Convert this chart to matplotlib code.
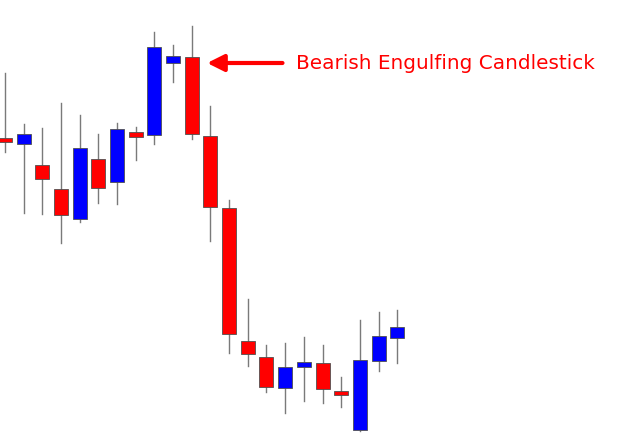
import matplotlib.pyplot as plt
from matplotlib.patches import Rectangle

# candle prices (arbitrary price units, higher = up)
opens = [302, 296, 275, 251, 221, 281, 258, 308, 305, 377, 383, 304, 232, 99, 83, 52, 73, 77, 49, 10, 79, 102]
closes = [298, 306, 261, 225, 292, 252, 311, 303, 393, 384, 306, 233, 106, 86, 53, 73, 78, 51, 45, 80, 104, 113]
highs = [367, 316, 312, 337, 325, 306, 317, 313, 408, 395, 414, 334, 240, 141, 95, 97, 103, 95, 63, 120, 128, 130]
lows = [288, 227, 226, 197, 218, 237, 236, 280, 296, 358, 301, 199, 87, 74, 48, 27, 39, 37, 33, 9, 69, 77]

label = "Bearish Engulfing Candlestick"
signal_idx = 10
label_level = 377

up_color = "#0000ff"
down_color = "#ff0000"

fig = plt.figure(figsize=(6.4, 4.4), dpi=100)
ax = fig.add_axes([0, 0, 1, 1])

width = 0.75
for i, (o, c, h, l) in enumerate(zip(opens, closes, highs, lows)):
    color = up_color if c > o else down_color
    ax.plot([i, i], [l, h], color="#7a7a7a", lw=1.0, zorder=1)
    ax.add_patch(Rectangle((i - width / 2, min(o, c)), width, abs(c - o),
                           facecolor=color, edgecolor="#505050", lw=0.6, zorder=2))

ax.annotate(label,
            xy=(signal_idx + 0.82, label_level),
            xytext=(15.6, label_level),
            color="red", fontsize=14.4, va="center", ha="left",
            arrowprops=dict(arrowstyle="-|>,head_length=0.7,head_width=0.35",
                            color="red", lw=3, shrinkA=8, shrinkB=0))

ax.set_xlim(-0.27, 34.0)
ax.set_ylim(0, 440)
ax.axis("off")

fig.savefig("out.png", dpi=100, facecolor="white")
